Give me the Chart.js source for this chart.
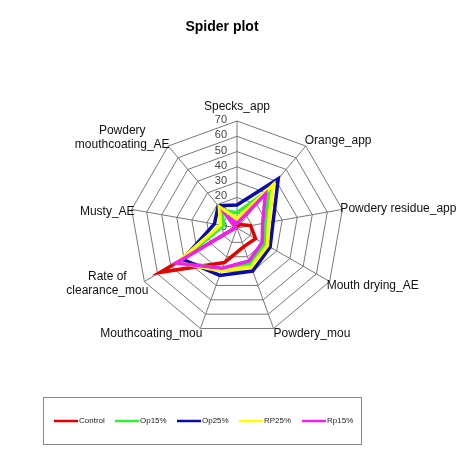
<!DOCTYPE html>
<html><head><meta charset="utf-8">
<script src="https://cdn.jsdelivr.net/npm/chart.js@4.4.1/dist/chart.umd.min.js"></script>
<style>html,body{margin:0;padding:0;background:#fff}#wrap{width:474px;height:474px;position:relative}</style>
</head><body><div id="wrap"><canvas id="c"></canvas></div>
<script>
const titleText = 'Spider plot';
const categories = ['Specks_app','Orange_app','Powdery residue_app','Mouth drying_AE','Powdery_mou','Mouthcoating_mou','Rate of clearance_mou','Musty_AE','Powdery mouthcoating_AE'];
const categoryLines = [['Specks_app'],['Orange_app'],['Powdery residue_app'],['Mouth drying_AE'],['Powdery_mou'],['Mouthcoating_mou'],['Rate of','clearance_mou'],['Musty_AE'],['Powdery','mouthcoating_AE']];
const seriesNames = ['Control','Op15%','Op25%','RP25%','Rp15%'];
const control = [1, 3, 9, 14, 13, 24, 58, 1, 3];
const op15 = [10, 33, 19, 21, 25, 29, 43, 9, 15];
const op25 = [15, 42, 24, 25, 30, 33, 41, 15, 19];
const rp25 = [6, 37, 21, 23, 27, 30, 45, 11, 18];
const rp15 = [3, 29, 17, 19, 23, 28, 46, 1, 10];
const tickValues = [0, 10, 20, 30, 40, 50, 60, 70];
const seriesColors = ['#e00000', '#33ee33', '#0a0aa8', '#ffff00', '#ee22ee'];

// label placement style (alignment + small nudge from the axis end)
const labelStyle = [
  {align:'center', dx:0, dy:-14},
  {align:'left', dx:-1, dy:-5},
  {align:'left', dx:-2, dy:-1},
  {align:'left', dx:-3, dy:4},
  {align:'left', dx:0, dy:5},
  {align:'right', dx:2, dy:5},
  {align:'center', dx:-37, dy:-5},
  {align:'right', dx:3, dy:2},
  {align:'center', dx:-46, dy:-15}
];

const seriesData = [control, op15, op25, rp25, rp15];
const drawOrder = [4, 3, 2, 1, 0];

const customDraw = {
  id: 'customDraw',
  beforeDatasetsDraw(chart) {
    const s = chart.scales.r, ctx = chart.ctx;
    ctx.save();
    ctx.font = '11px "Liberation Sans", Arial, sans-serif';
    ctx.fillStyle = '#444';
    ctx.textAlign = 'right';
    ctx.textBaseline = 'middle';
    tickValues.forEach(v => {
      const d = s.getDistanceFromCenterForValue(v);
      ctx.fillText(String(v), s.xCenter - 10, s.yCenter - d - 1);
    });
    ctx.restore();
  },
  afterDraw(chart) {
    const s = chart.scales.r, ctx = chart.ctx;
    ctx.save();
    ctx.font = 'bold 14px "Liberation Sans", Arial, sans-serif';
    ctx.fillStyle = '#000';
    ctx.textAlign = 'center';
    ctx.textBaseline = 'middle';
    ctx.fillText(titleText, 222, 27);
    ctx.font = '12px "Liberation Sans", Arial, sans-serif';
    ctx.fillStyle = '#111';
    ctx.textBaseline = 'middle';
    categoryLines.forEach((lines, i) => {
      const p = s.getPointPosition(i, s.drawingArea);
      const st = labelStyle[i];
      ctx.textAlign = st.align;
      lines.forEach((ln, k) => ctx.fillText(ln, p.x + st.dx, p.y + st.dy + k * 14));
    });
    ctx.strokeStyle = '#888';
    ctx.lineWidth = 1;
    ctx.strokeRect(43.5, 397.5, 318, 47);
    ctx.font = '8px "Liberation Sans", Arial, sans-serif';
    ctx.textAlign = 'left';
    const starts = [54, 115, 177, 239, 302];
    chart.data.datasets.forEach((ds, i) => {
      const x = starts[i], y = 421;
      ctx.strokeStyle = ds.borderColor;
      ctx.lineWidth = 2.5;
      ctx.beginPath(); ctx.moveTo(x, y); ctx.lineTo(x + 24, y); ctx.stroke();
      ctx.fillStyle = '#222';
      ctx.fillText(ds.label, x + 25, y);
    });
    ctx.restore();
  }
};

new Chart(document.getElementById('c'), {
  type: 'radar',
  data: {
    labels: categories,
    datasets: seriesNames.map((n, i) => ({
      label: n,
      data: seriesData[i],
      borderColor: seriesColors[i],
      backgroundColor: 'transparent',
      borderWidth: 3.5,
      pointRadius: 0,
      fill: false,
      order: drawOrder[i]
    }))
  },
  options: {
    responsive: true,
    maintainAspectRatio: false,
    animation: false,
    layout: { padding: { left: 130, right: 130, top: 121, bottom: 139 } },
    plugins: { legend: { display: false }, title: { display: false }, tooltip: { enabled: false } },
    elements: { line: { tension: 0, borderJoinStyle: 'miter' } },
    scales: {
      r: {
        min: 0, max: 70,
        ticks: { stepSize: 10, display: false },
        pointLabels: { display: false },
        grid: { color: '#777', lineWidth: 1 },
        angleLines: { color: '#777', lineWidth: 1 }
      }
    }
  },
  plugins: [customDraw]
});
</script>
</body></html>
